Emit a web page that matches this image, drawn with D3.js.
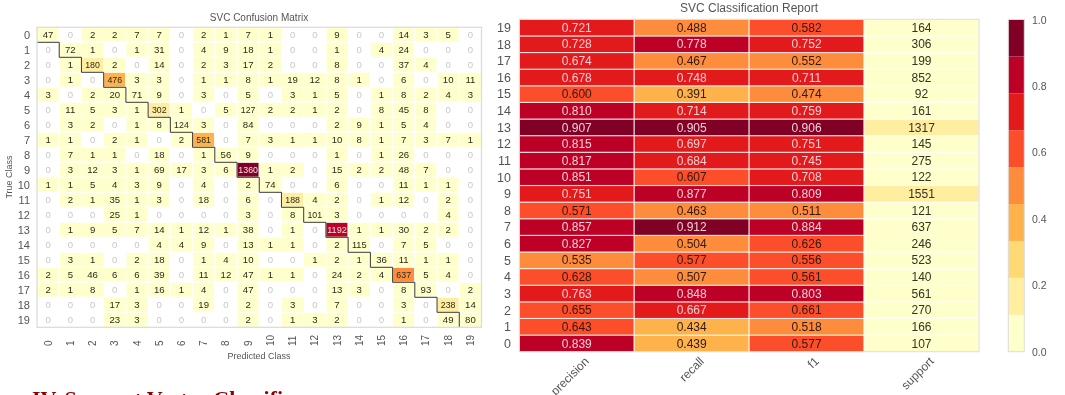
<!DOCTYPE html>
<html><head><meta charset="utf-8">
<style>
html,body{margin:0;padding:0;background:#fff;overflow:hidden}
svg{display:block;font-family:"Liberation Sans",Arial,sans-serif;filter:blur(0.35px)}
</style>
<script src="https://cdn.jsdelivr.net/npm/d3@7/dist/d3.min.js"></script>
</head><body>
<svg id="c" width="1065" height="395"></svg>
<script>
const classes = d3.range(20).map(String);
const ylOrRd9 = ["#ffffcc","#ffeda0","#fed976","#feb24c","#fd8d3c","#fc4e2a","#e31a1c","#bd0026","#800026"];
const confusion = [
[47,0,2,2,7,7,0,2,1,7,1,0,0,9,0,0,14,3,5,0],
[0,72,1,0,1,31,0,4,9,18,1,0,0,1,0,4,24,0,0,0],
[0,1,180,2,0,14,0,2,3,17,2,0,0,8,0,0,37,4,0,0],
[0,1,0,476,3,3,0,1,1,8,1,19,12,8,1,0,6,0,10,11],
[3,0,2,20,71,9,0,3,0,5,0,3,1,5,0,1,8,2,4,3],
[0,11,5,3,1,302,1,0,5,127,2,2,1,2,0,8,45,8,0,0],
[0,3,2,0,1,8,124,3,0,84,0,0,0,2,9,1,5,4,0,0],
[1,1,0,2,1,0,2,581,0,7,3,1,1,10,8,1,7,3,7,1],
[0,7,1,1,0,18,0,1,56,9,0,0,0,1,0,1,26,0,0,0],
[0,3,12,3,1,69,17,3,6,1360,1,2,0,15,2,2,48,7,0,0],
[1,1,5,4,3,9,0,4,0,2,74,0,0,6,0,0,11,1,1,0],
[0,2,1,35,1,3,0,18,0,6,0,188,4,2,0,1,12,0,2,0],
[0,0,0,25,1,0,0,0,0,3,0,8,101,3,0,0,0,0,4,0],
[0,1,9,5,7,14,1,12,1,38,0,1,0,1192,1,1,30,2,2,0],
[0,0,0,0,0,4,4,9,0,13,1,1,0,2,115,0,7,5,0,0],
[0,3,1,0,2,18,0,1,4,10,0,0,1,2,1,36,11,1,1,0],
[2,5,46,6,6,39,0,11,12,47,1,1,0,24,2,4,637,5,4,0],
[2,1,8,0,1,16,1,4,0,47,0,0,0,13,3,0,8,93,0,2],
[0,0,0,17,3,0,0,19,0,2,0,3,0,7,0,0,3,0,238,14],
[0,0,0,23,3,0,0,0,0,2,0,1,3,2,0,0,1,0,49,80]];
const metrics = ["precision","recall","f1","support"];
const precision = [0.839,0.643,0.655,0.763,0.628,0.535,0.827,0.857,0.571,0.751,0.851,0.817,0.815,0.907,0.810,0.600,0.678,0.674,0.728,0.721];
const recall = [0.439,0.434,0.667,0.848,0.507,0.577,0.504,0.912,0.463,0.877,0.607,0.684,0.697,0.905,0.714,0.391,0.748,0.467,0.778,0.488];
const f1 = [0.577,0.518,0.661,0.803,0.561,0.556,0.626,0.884,0.511,0.809,0.708,0.745,0.751,0.906,0.759,0.474,0.711,0.552,0.752,0.582];
const support = [107,166,270,561,140,523,246,637,121,1551,122,275,145,1317,161,92,852,199,306,164];
const colorbarTicks = [0,0.2,0.4,0.6,0.8,1];
const headline = "IV. Support Vector Classifier";

const svg = d3.select("#c");
const ink = "#555";

const binned = d3.scaleQuantize().domain([0,1]).range(ylOrRd9);

/* ---------- confusion matrix ---------- */
const cm = {l:37,r:481.5,t:27.3,b:327.3};
const cx = d3.scaleBand().domain(classes).range([cm.l,cm.r]);
const cy = d3.scaleBand().domain(classes).range([cm.t,cm.b]);
const cmMax = d3.max(confusion.flat());
const cmCells = confusion.flatMap((row,r)=>row.map((v,c)=>({r:String(r),c:String(c),v})));
const g1 = svg.append("g");
g1.selectAll("rect.c").data(cmCells).join("rect")
  .attr("x",d=>cx(d.c)).attr("y",d=>cy(d.r))
  .attr("width",cx.bandwidth()).attr("height",cy.bandwidth())
  .attr("fill",d=>d.v===0?"#fff":binned(d.v/cmMax))
  .attr("stroke","#fff").attr("stroke-width",1);
g1.selectAll("text.c").data(cmCells).join("text")
  .attr("x",d=>cx(d.c)+cx.bandwidth()/2).attr("y",d=>cy(d.r)+cy.bandwidth()/2+3.2)
  .attr("text-anchor","middle").attr("font-size",9.6)
  .attr("textLength",d=>String(d.v).length>=3?String(d.v).length*4.9:null)
  .attr("lengthAdjust","spacingAndGlyphs")
  .attr("fill",d=>d.v===0?"#c8c8c8":(d.v/cmMax>0.8?"#f4e3e8":"#2b2b1e"))
  .text(d=>d.v);
const stair = d3.line().curve(d3.curveStepAfter)
  .x(d=>cx(d)).y(d=>cy(d)+cy.bandwidth());
g1.append("path").datum(classes).attr("d",stair)
  .attr("fill","none").attr("stroke","#222").attr("stroke-width",0.9);
g1.append("rect").attr("x",cm.l).attr("y",cm.t).attr("width",cm.r-cm.l).attr("height",cm.b-cm.t)
  .attr("fill","none").attr("stroke","#dcdcdc").attr("stroke-width",1.3);
g1.selectAll("text.y").data(classes).join("text")
  .attr("x",30).attr("y",d=>cy(d)+cy.bandwidth()/2+4)
  .attr("text-anchor","end").attr("font-size",11).attr("fill",ink).text(d=>d);
g1.selectAll("text.x").data(classes).join("text")
  .attr("transform",d=>`translate(${cx(d)+cx.bandwidth()/2+3.5},346) rotate(-90)`)
  .attr("font-size",10).attr("fill",ink).text(d=>d);
g1.append("text").attr("x",259).attr("y",21).attr("text-anchor","middle")
  .attr("font-size",10).attr("fill",ink).text("SVC Confusion Matrix");
g1.append("text").attr("x",259).attr("y",359).attr("text-anchor","middle")
  .attr("font-size",9).attr("fill",ink).text("Predicted Class");
g1.append("text").attr("transform","translate(12,177) rotate(-90)").attr("text-anchor","middle")
  .attr("font-size",9).attr("fill",ink).text("True Class");

/* ---------- classification report ---------- */
const rp = {l:519.3,r:979,t:19.3,b:351.7};
const rx = d3.scaleBand().domain(metrics).range([rp.l,rp.r]);
const ry = d3.scaleBand().domain(classes).range([rp.b,rp.t]);
const supportMax = d3.sum(support);
const columns = {precision,recall,f1,support};
const rpCells = metrics.flatMap(m=>columns[m].map((v,i)=>({m,r:String(i),v,
  s:m==="support"?v/supportMax:v})));
const g2 = svg.append("g");
g2.selectAll("rect.c").data(rpCells).join("rect")
  .attr("x",d=>rx(d.m)).attr("y",d=>ry(d.r))
  .attr("width",rx.bandwidth()).attr("height",ry.bandwidth())
  .attr("fill",d=>binned(d.s))
  .attr("stroke","#fff").attr("stroke-opacity",0.75).attr("stroke-width",1.1);
g2.selectAll("text.c").data(rpCells).join("text")
  .attr("x",d=>rx(d.m)+rx.bandwidth()/2).attr("y",d=>ry(d.r)+ry.bandwidth()/2+4.2)
  .attr("text-anchor","middle").attr("font-size",12)
  .attr("fill",d=>d.m==="support"?"#333326":(d.s>0.665?"#f3cfd6":"#33180f"))
  .text(d=>d.m==="support"?d.v:d.v.toFixed(3));
g2.append("rect").attr("x",rp.l).attr("y",rp.t).attr("width",rp.r-rp.l).attr("height",rp.b-rp.t)
  .attr("fill","none").attr("stroke","#dcdcdc").attr("stroke-width",1);
g2.selectAll("text.y").data(classes).join("text")
  .attr("x",511).attr("y",d=>ry(d)+ry.bandwidth()/2+4.4)
  .attr("text-anchor","end").attr("font-size",12.5).attr("fill",ink).text(d=>d);
g2.selectAll("text.x").data(metrics).join("text")
  .attr("transform",d=>`translate(${rx(d)+rx.bandwidth()/2+13},362) rotate(-45)`)
  .attr("text-anchor","end").attr("font-size",12).attr("fill",ink).text(d=>d);
g2.append("text").attr("x",749).attr("y",12).attr("text-anchor","middle")
  .attr("font-size",12).attr("fill",ink).text("SVC Classification Report");

/* ---------- colour bar ---------- */
const bar = {l:1008.3,r:1024.3,t:19.5,b:351.7};
const by = d3.scaleLinear().domain([0,1]).range([bar.b,bar.t]);
const g3 = svg.append("g");
g3.selectAll("rect").data(ylOrRd9).join("rect")
  .attr("x",bar.l).attr("width",bar.r-bar.l)
  .attr("y",(d,i)=>by((i+1)/ylOrRd9.length))
  .attr("height",(d,i)=>by(i/ylOrRd9.length)-by((i+1)/ylOrRd9.length))
  .attr("fill",d=>d);
g3.append("rect").attr("x",bar.l).attr("y",bar.t).attr("width",bar.r-bar.l).attr("height",bar.b-bar.t)
  .attr("fill","none").attr("stroke","#dcdcdc").attr("stroke-width",1);
g3.selectAll("text").data(colorbarTicks).join("text")
  .attr("x",1032).attr("y",d=>by(d)+4)
  .attr("font-size",10.5).attr("fill",ink).text(d=>d.toFixed(1));

/* ---------- clipped line under the chart ---------- */
svg.append("text").attr("x",32).attr("y",406)
  .attr("font-family","'Liberation Serif',serif").attr("font-weight","bold")
  .attr("font-size",22).attr("fill","#8b0000").text(headline);
</script>
</body></html>
